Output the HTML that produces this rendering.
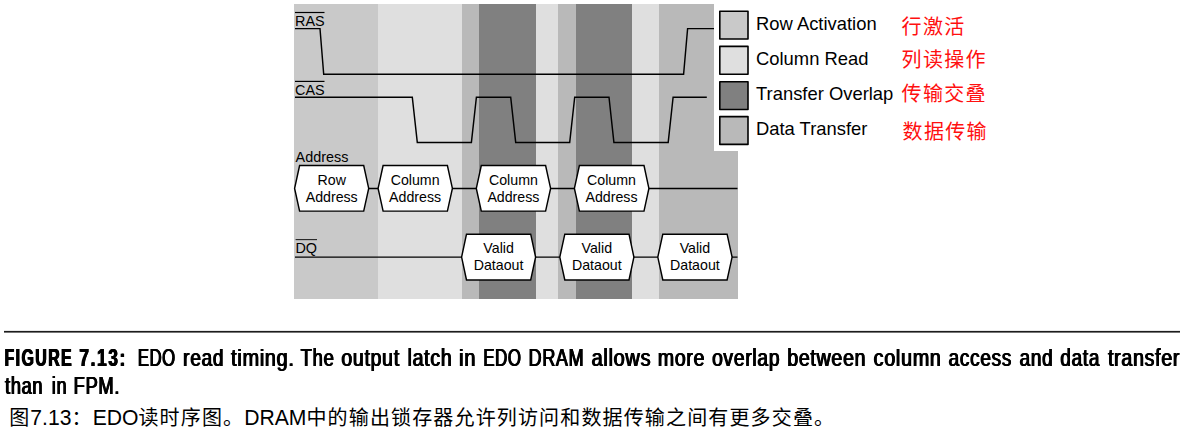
<!DOCTYPE html>
<html lang="en">
<head>
<meta charset="utf-8">
<title>Figure 7.13 EDO read timing</title>
<style>
html,body{margin:0;padding:0;background:#fff;}
body{width:1190px;height:435px;overflow:hidden;position:relative;}
svg{position:absolute;left:0;top:0;display:block;}
.lat{font-family:"Liberation Sans",sans-serif;}
.cjk{font-family:"Liberation Sans","Noto Sans CJK SC",sans-serif;}
.sig{font-family:"Liberation Sans",sans-serif;font-size:14.4px;fill:#000;}
.box{font-family:"Liberation Sans",sans-serif;font-size:14.2px;fill:#000;text-anchor:middle;}
.leg{font-family:"Liberation Sans",sans-serif;font-size:18.4px;fill:#000;}
.red{font-family:"Liberation Sans","Noto Sans CJK SC",sans-serif;font-size:20px;letter-spacing:1.3px;fill:#ff1010;}
.cj{font-size:20px;letter-spacing:1.15px;}
.wave{fill:none;stroke:#000;stroke-width:1.45;stroke-linejoin:miter;}
.hex{fill:#fff;stroke:#000;stroke-width:1.45;stroke-linejoin:miter;}
.sw{stroke:#000;stroke-width:1.6;stroke-linejoin:round;}
</style>
</head>
<body>
<svg width="1190" height="435" viewBox="0 0 1190 435">
  <defs>
    <filter id="thickB" x="-2%" y="-20%" width="104%" height="140%" color-interpolation-filters="sRGB">
      <feOffset in="SourceGraphic" dx="0.7" dy="0" result="o1"/>
      <feOffset in="SourceGraphic" dx="1.4" dy="0" result="o2"/>
      <feMerge><feMergeNode in="SourceGraphic"/><feMergeNode in="o1"/><feMergeNode in="o2"/></feMerge>
    </filter>
    <filter id="thickM" x="-2%" y="-20%" width="104%" height="140%" color-interpolation-filters="sRGB">
      <feOffset in="SourceGraphic" dx="0.55" dy="0" result="o1"/>
      <feOffset in="SourceGraphic" dx="1.1" dy="0" result="o2"/>
      <feMerge><feMergeNode in="SourceGraphic"/><feMergeNode in="o1"/><feMergeNode in="o2"/></feMerge>
    </filter>
  </defs>
  <!-- background bands -->
  <g shape-rendering="crispEdges">
    <rect x="294" y="4" width="84"  height="295" fill="#c9c9c9"/>
    <rect x="378" y="4" width="84"  height="295" fill="#dfdfdf"/>
    <rect x="462" y="4" width="17"  height="295" fill="#b9b9b9"/>
    <rect x="479" y="4" width="57"  height="295" fill="#808080"/>
    <rect x="536" y="4" width="22"  height="295" fill="#dfdfdf"/>
    <rect x="558" y="4" width="18"  height="295" fill="#b9b9b9"/>
    <rect x="576" y="4" width="56"  height="295" fill="#808080"/>
    <rect x="632" y="4" width="27"  height="295" fill="#dfdfdf"/>
    <rect x="659" y="4" width="79"  height="295" fill="#b9b9b9"/>
    <!-- legend white backing -->
    <rect x="714" y="0" width="300" height="151" fill="#ffffff"/>
  </g>

  <!-- RAS -->
  <line x1="295" y1="12.5" x2="324.5" y2="12.5" stroke="#000" stroke-width="1.2"/>
  <text class="sig" x="295" y="26">RAS</text>
  <path class="wave" d="M295,28.6 L320,28.6 L323.7,74.2 L683.6,74.2 L687.6,28.6 L714,28.6"/>

  <!-- CAS -->
  <line x1="295" y1="81.4" x2="324.5" y2="81.4" stroke="#000" stroke-width="1.2"/>
  <text class="sig" x="295" y="95">CAS</text>
  <path class="wave" d="M295,97.2 L412.3,97.2 L417.3,142.4 L471.4,142.4 L476.4,97.2 L510.7,97.2 L515.7,142.4 L569.7,142.4 L574.7,97.2 L609,97.2 L613.9,142.4 L668.2,142.4 L673.1,97.2 L706.8,97.2"/>

  <!-- Address -->
  <text class="sig" x="295.6" y="162">Address</text>
  <path class="wave" d="M295,188.4 L737.5,188.4"/>
  <path class="hex" d="M294.6,188.4 L299.6,165.5 L363.7,165.5 L368.7,188.4 L363.7,211.1 L299.6,211.1 Z"/>
  <path class="hex" d="M378.1,188.4 L383.1,165.5 L447.4,165.5 L452.4,188.4 L447.4,211.1 L383.1,211.1 Z"/>
  <path class="hex" d="M476.3,188.4 L481.3,165.5 L545.6,165.5 L550.6,188.4 L545.6,211.1 L481.3,211.1 Z"/>
  <path class="hex" d="M574.4,188.4 L579.4,165.5 L644.0,165.5 L648.9,188.4 L644.0,211.1 L579.4,211.1 Z"/>
  <text class="box" x="331.7" y="185">Row</text>
  <text class="box" x="331.7" y="202">Address</text>
  <text class="box" x="415.1" y="185">Column</text>
  <text class="box" x="415.1" y="202">Address</text>
  <text class="box" x="513.4" y="185">Column</text>
  <text class="box" x="513.4" y="202">Address</text>
  <text class="box" x="611.5" y="185">Column</text>
  <text class="box" x="611.5" y="202">Address</text>

  <!-- DQ -->
  <line x1="295.6" y1="239.6" x2="317" y2="239.6" stroke="#222" stroke-width="1.1"/>
  <text class="sig" x="295.4" y="253">DQ</text>
  <path class="wave" d="M295,257.1 L737.5,257.1"/>
  <path class="hex" d="M461.6,257.1 L466.5,234.2 L530.7,234.2 L535.6,257.1 L530.7,279.9 L466.5,279.9 Z"/>
  <path class="hex" d="M559.8,257.1 L564.8,234.2 L629.0,234.2 L633.9,257.1 L629.0,279.9 L564.8,279.9 Z"/>
  <path class="hex" d="M657.8,257.1 L662.8,234.2 L727.1,234.2 L732.1,257.1 L727.1,279.9 L662.8,279.9 Z"/>
  <text class="box" x="498.6" y="253">Valid</text>
  <text class="box" x="498.6" y="270">Dataout</text>
  <text class="box" x="596.8" y="253">Valid</text>
  <text class="box" x="596.8" y="270">Dataout</text>
  <text class="box" x="694.9" y="253">Valid</text>
  <text class="box" x="694.9" y="270">Dataout</text>

  <!-- Legend -->
  <rect class="sw" x="719.8" y="11.2" width="28.2" height="27.8" fill="#c9c9c9"/>
  <rect class="sw" x="719.8" y="46.4" width="28.2" height="27.8" fill="#dfdfdf"/>
  <rect class="sw" x="719.8" y="81.7" width="28.2" height="27.8" fill="#808080"/>
  <rect class="sw" x="719.8" y="116.6" width="28.2" height="27.8" fill="#b9b9b9"/>
  <text class="leg" x="756" y="30">Row Activation</text>
  <text class="leg" x="756" y="65">Column Read</text>
  <text class="leg" x="756" y="100">Transfer Overlap</text>
  <text class="leg" x="756" y="135">Data Transfer</text>
  <text class="red" x="901.6" y="34">行激活</text>
  <text class="red" x="901.6" y="67">列读操作</text>
  <text class="red" x="901.6" y="101">传输交叠</text>
  <text class="red" x="902.6" y="139">数据传输</text>

  <!-- rule -->
  <rect x="4" y="330.9" width="1176" height="1.7" fill="#1c1c1c"/>

  <!-- caption -->
  <g filter="url(#thickB)" style="font-family:'Liberation Sans',sans-serif;font-weight:bold;font-size:24.7px;fill:#000;">
    <text transform="translate(3.91,365.9) scale(0.6381,1)" letter-spacing="2.4">FIGURE</text>
    <text transform="translate(78.86,365.9) scale(0.6944,1)" letter-spacing="2.4">7.13:</text>
  </g>
  <g filter="url(#thickM)" style="font-family:'Liberation Sans',sans-serif;font-weight:normal;font-size:24.7px;fill:#000;">
    <text transform="translate(137.19,365.9) scale(0.6766,1)" letter-spacing="0.9">EDO</text>
    <text transform="translate(182.61,365.9) scale(0.7702,1)" letter-spacing="0.9">read</text>
    <text transform="translate(230.50,365.9) scale(0.8048,1)" letter-spacing="0.9">timing.</text>
    <text transform="translate(300.01,365.9) scale(0.7470,1)" letter-spacing="0.9">The</text>
    <text transform="translate(340.79,365.9) scale(0.7905,1)" letter-spacing="0.9">output</text>
    <text transform="translate(406.88,365.9) scale(0.7929,1)" letter-spacing="0.9">latch</text>
    <text transform="translate(458.55,365.9) scale(0.8084,1)" letter-spacing="0.9">in</text>
    <text transform="translate(482.68,365.9) scale(0.6823,1)" letter-spacing="0.9">EDO</text>
    <text transform="translate(527.99,365.9) scale(0.7295,1)" letter-spacing="0.9">DRAM</text>
    <text transform="translate(590.88,365.9) scale(0.8087,1)" letter-spacing="0.9">allows</text>
    <text transform="translate(657.18,365.9) scale(0.7904,1)" letter-spacing="0.9">more</text>
    <text transform="translate(711.40,365.9) scale(0.7822,1)" letter-spacing="0.9">overlap</text>
    <text transform="translate(786.68,365.9) scale(0.7929,1)" letter-spacing="0.9">between</text>
    <text transform="translate(873.08,365.9) scale(0.7991,1)" letter-spacing="0.9">column</text>
    <text transform="translate(948.01,365.9) scale(0.7704,1)" letter-spacing="0.9">access</text>
    <text transform="translate(1019.01,365.9) scale(0.7686,1)" letter-spacing="0.9">and</text>
    <text transform="translate(1059.81,365.9) scale(0.7676,1)" letter-spacing="0.9">data</text>
    <text transform="translate(1107.40,365.9) scale(0.7941,1)" letter-spacing="0.9">transfer</text>
    <text transform="translate(4.40,394.2) scale(0.7391,1)" letter-spacing="0.9">than</text>
    <text transform="translate(51.28,394.2) scale(0.7270,1)" letter-spacing="0.9">in</text>
    <text transform="translate(73.07,394.2) scale(0.7421,1)" letter-spacing="0.9">FPM.</text>
  </g>
  <text x="9.2" y="424.6" class="cjk" style="font-size:21.15px;fill:#000;"><tspan class="cj">图</tspan>7.13<tspan class="cj">：</tspan>EDO<tspan class="cj">读时序图。</tspan>DRAM<tspan class="cj">中的输出锁存器允许列访问和数据传输之间有更多交叠。</tspan></text>
</svg>
</body>
</html>
